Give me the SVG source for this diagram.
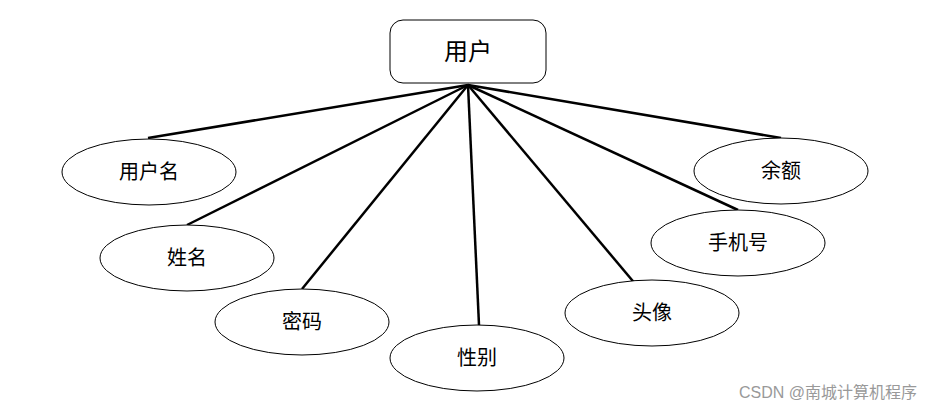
<svg xmlns="http://www.w3.org/2000/svg" width="931" height="416" viewBox="0 0 931 416">
<style>
.n{fill:#fff;stroke:#000;stroke-width:1}
.t{font-family:"Liberation Serif","Noto Sans CJK SC",serif;font-size:20px;text-anchor:middle;dominant-baseline:central;fill:#000}
.c line{stroke:#000;stroke-width:2.5}
</style>
<rect width="931" height="416" fill="#fff"/>
<g class="c">
<line x1="468" y1="85" x2="148" y2="138"/>
<line x1="468" y1="85" x2="187" y2="225"/>
<line x1="468" y1="85" x2="302" y2="289"/>
<line x1="468" y1="85" x2="479" y2="325"/>
<line x1="468" y1="85" x2="637" y2="286"/>
<line x1="468" y1="85" x2="738" y2="210"/>
<line x1="468" y1="85" x2="781" y2="138"/>
</g>
<g id="user"><rect class="n" x="390" y="20" width="156" height="63" rx="13"/><text class="t" x="468" y="52" style="font-size:24px">用户</text></g>
<g id="username"><ellipse class="n" cx="149" cy="172" rx="87" ry="33"/><text class="t" x="149" y="172">用户名</text></g>
<g id="name"><ellipse class="n" cx="187" cy="258" rx="87" ry="33"/><text class="t" x="187" y="258">姓名</text></g>
<g id="pwd"><ellipse class="n" cx="302" cy="322" rx="87" ry="33"/><text class="t" x="302" y="322">密码</text></g>
<g id="sex"><ellipse class="n" cx="477" cy="358" rx="87" ry="33"/><text class="t" x="477" y="358">性别</text></g>
<g id="avatar"><ellipse class="n" cx="652" cy="313" rx="87" ry="33"/><text class="t" x="652" y="313">头像</text></g>
<g id="phone"><ellipse class="n" cx="738" cy="243" rx="87" ry="33"/><text class="t" x="738" y="243">手机号</text></g>
<g id="balance"><ellipse class="n" cx="781" cy="171" rx="87" ry="33"/><text class="t" x="781" y="171">余额</text></g>
<text x="917" y="398" text-anchor="end" style="font-family:'Liberation Sans','Noto Sans CJK SC',sans-serif;font-size:16px;fill:#999">CSDN @南城计算机程序</text>
</svg>
